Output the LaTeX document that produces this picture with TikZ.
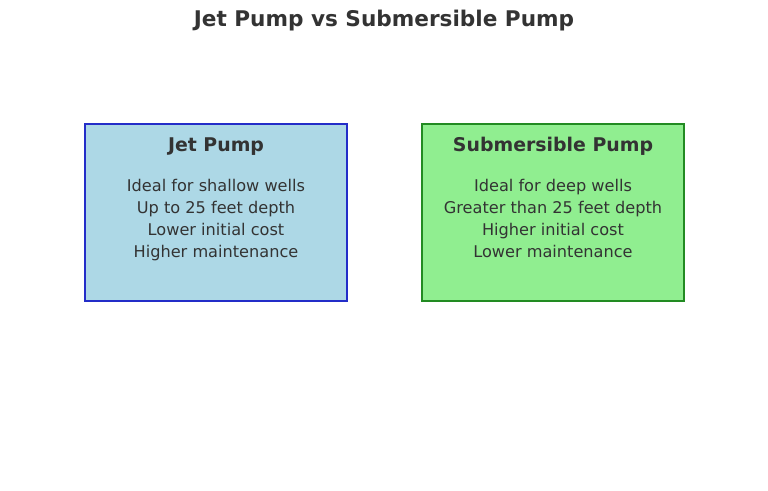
\documentclass[tikz,border=0pt]{standalone}
\usepackage{fontspec}
\setmainfont{DejaVu Sans}
\definecolor{txt}{HTML}{333333}
\definecolor{jetfill}{HTML}{ADD8E6}
\definecolor{jetdraw}{RGB}{35,45,200}
\definecolor{subfill}{HTML}{90EE90}
\definecolor{subdraw}{RGB}{34,139,34}
\begin{document}
\begin{tikzpicture}[x=1pt,y=-1pt,
  titletext/.style={font=\fontsize{21.6}{25}\selectfont\bfseries, text=txt, anchor=base, inner sep=0pt},
  headtext/.style={font=\fontsize{18.9}{22}\selectfont\bfseries, text=txt, anchor=base, inner sep=0pt},
  bodytext/.style={font=\fontsize{16.15}{20}\selectfont, text=txt, anchor=base, inner sep=0pt},
  panel/.style={line width=1.2pt}]
\useasboundingbox (0,0) rectangle (768,490);
\fill[white] (0,0) rectangle (768,490);
\node[titletext] (title) at (384,26) {Jet Pump vs Submersible Pump};
% Jet pump box
\draw[panel, fill=jetfill, draw=jetdraw] (85,124) rectangle (347,301);
\node[headtext] (jh) at (216,151) {Jet Pump};
\node[bodytext] (j1) at (216,191) {Ideal for shallow wells};
\node[bodytext] (j2) at (216,213) {Up to 25 feet depth};
\node[bodytext] (j3) at (216,235) {Lower initial cost};
\node[bodytext] (j4) at (216,257) {Higher maintenance};
% Submersible pump box
\draw[panel, fill=subfill, draw=subdraw] (422,124) rectangle (684,301);
\node[headtext] (sh) at (553,151) {Submersible Pump};
\node[bodytext] (s1) at (553,191) {Ideal for deep wells};
\node[bodytext] (s2) at (553,213) {Greater than 25 feet depth};
\node[bodytext] (s3) at (553,235) {Higher initial cost};
\node[bodytext] (s4) at (553,257) {Lower maintenance};
\end{tikzpicture}
\end{document}
